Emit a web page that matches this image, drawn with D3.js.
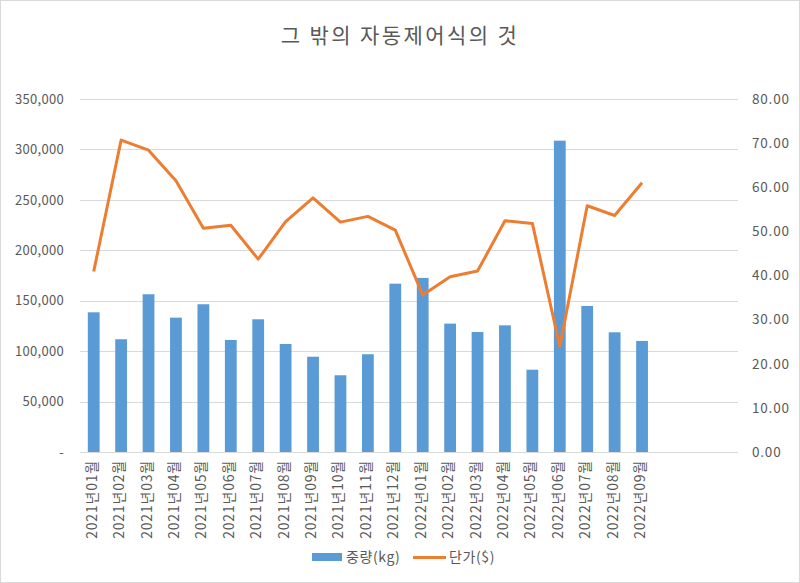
<!DOCTYPE html>
<html>
<head>
<meta charset="utf-8">
<script src="https://cdn.jsdelivr.net/npm/d3@7"></script>
<style>
    body { margin: 0; background: #fff; }
    text { font-family: "Noto Sans CJK KR", "Noto Sans", sans-serif; fill: #595959; }
    .grid line { stroke: #d9d9d9; }
    .axis path, .axis line { display: none; }
</style>
</head>
<body>
<script>
// Chart data
const months = [
    "2021년01월", "2021년02월", "2021년03월", "2021년04월", "2021년05월", "2021년06월",
    "2021년07월", "2021년08월", "2021년09월", "2021년10월", "2021년11월", "2021년12월",
    "2022년01월", "2022년02월", "2022년03월", "2022년04월", "2022년05월", "2022년06월",
    "2022년07월", "2022년08월", "2022년09월"
];
const weights = [
    138500, 111800, 156400, 133200, 146500, 111100, 131600, 107100, 94500, 76100, 96900, 166900,
    172600, 127300, 119000, 125600, 81600, 308700, 144800, 118700, 110100
];
const prices = [
    40.9, 70.7, 68.4, 61.5, 50.7, 51.4, 43.7, 52.2, 57.6, 52.1, 53.4, 50.3,
    35.6, 39.7, 41.0, 52.4, 51.8, 23.9, 55.8, 53.6, 61.0
];
// the axis has 3 empty slots after the last month
const emptySlots = 3;
const leftTicks = [0, 50000, 100000, 150000, 200000, 250000, 300000, 350000];
const rightTicks = [0, 10, 20, 30, 40, 50, 60, 70, 80];

const width = 800;
const height = 583;
const margin = { top: 99, right: 62, bottom: 131, left: 80 };

const svg = d3.select("body")
    .append("svg")
    .attr("width", width)
    .attr("height", height);

// Outer border
svg.append("rect")
    .attr("x", 0.5).attr("y", 0.5)
    .attr("width", width - 1).attr("height", height - 1)
    .attr("fill", "#fff")
    .attr("stroke", "#d9d9d9");

const slots = d3.range(months.length + emptySlots);

const xScale = d3.scaleBand()
    .domain(slots)
    .range([margin.left, width - margin.right])
    .paddingInner(0.57)
    .paddingOuter(0.285);

const yLeft = d3.scaleLinear()
    .domain([0, 350000])
    .range([height - margin.bottom, margin.top]);

const yRight = d3.scaleLinear()
    .domain([0, 80])
    .range([height - margin.bottom, margin.top]);

// Gridlines
svg.append("g")
    .attr("class", "grid")
    .selectAll("line")
    .data(leftTicks)
    .join("line")
    .attr("x1", margin.left)
    .attr("x2", width - margin.right)
    .attr("y1", d => Math.round(yLeft(d)) + 0.5)
    .attr("y2", d => Math.round(yLeft(d)) + 0.5);

// Bars
svg.append("g")
    .selectAll("rect")
    .data(weights)
    .join("rect")
    .attr("x", (d, i) => xScale(i))
    .attr("y", d => yLeft(d))
    .attr("width", xScale.bandwidth())
    .attr("height", d => yLeft(0) - yLeft(d))
    .attr("fill", "#5b9bd5");

// Price line
svg.append("path")
    .datum(prices)
    .attr("fill", "none")
    .attr("stroke", "#ed7d31")
    .attr("stroke-width", 3)
    .attr("stroke-linejoin", "round")
    .attr("d", d3.line()
        .x((d, i) => xScale(i) + xScale.bandwidth() / 2)
        .y(d => yRight(d))
    );

// Left axis
const leftAxis = d3.axisLeft(yLeft)
    .tickValues(leftTicks)
    .tickSize(0)
    .tickPadding(16)
    .tickFormat(d => d === 0 ? "-" : d3.format(",")(d));

svg.append("g")
    .attr("class", "axis")
    .attr("transform", `translate(${margin.left}, 0)`)
    .call(leftAxis)
    .selectAll("text")
    .style("font-size", "13px")
    .style("letter-spacing", "0.3px");

// Right axis
const rightAxis = d3.axisRight(yRight)
    .tickValues(rightTicks)
    .tickSize(0)
    .tickPadding(14)
    .tickFormat(d3.format(".2f"));

svg.append("g")
    .attr("class", "axis")
    .attr("transform", `translate(${width - margin.right}, 0)`)
    .call(rightAxis)
    .selectAll("text")
    .style("font-size", "13.5px")
    .style("letter-spacing", "0.8px");

// Bottom axis line
svg.append("line")
    .attr("x1", margin.left)
    .attr("x2", width - margin.right)
    .attr("y1", Math.round(yLeft(0)) + 0.5)
    .attr("y2", Math.round(yLeft(0)) + 0.5)
    .attr("stroke", "#d9d9d9");

// Month labels, rotated
svg.append("g")
    .selectAll("text")
    .data(months)
    .join("text")
    .attr("transform", (d, i) =>
        `translate(${xScale(i) + xScale.bandwidth() / 2 + 3}, ${yLeft(0) + 8}) rotate(-90)`)
    .attr("text-anchor", "end")
    .style("font-size", "14px")
    .style("letter-spacing", "0.8px")
    .text(d => d);

// Title
svg.append("text")
    .attr("x", width / 2)
    .attr("y", 43)
    .attr("text-anchor", "middle")
    .style("font-size", "21px")
    .style("letter-spacing", "2.4px")
    .text("그 밖의 자동제어식의 것");

// Legend
const legend = svg.append("g").attr("transform", "translate(0, 557)");
legend.append("rect")
    .attr("x", 312).attr("y", -4)
    .attr("width", 30).attr("height", 8)
    .attr("fill", "#5b9bd5");
legend.append("text")
    .attr("x", 346).attr("y", 5)
    .style("font-size", "14px")
    .style("letter-spacing", "0.6px")
    .text("중량(kg)");
legend.append("line")
    .attr("x1", 413).attr("x2", 446)
    .attr("y1", 0.5).attr("y2", 0.5)
    .attr("stroke", "#ed7d31")
    .attr("stroke-width", 3);
legend.append("text")
    .attr("x", 449).attr("y", 5)
    .style("font-size", "14px")
    .style("letter-spacing", "0.6px")
    .text("단가($)");
</script>
</body>
</html>
